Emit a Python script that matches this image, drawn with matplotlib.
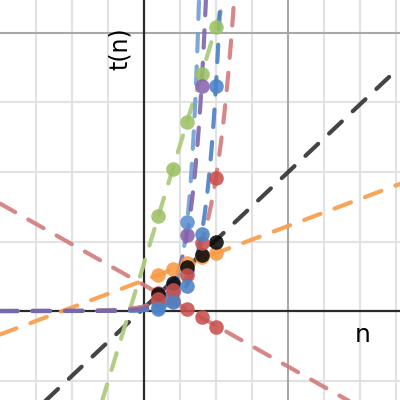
import numpy as np
import matplotlib
matplotlib.use("Agg")
import matplotlib.pyplot as plt

# ---- data ----
n_vals = [2, 4, 6, 8, 10]

black_pts = [1.24, 2.04, 3.17, 4.03, 4.94]
orange_pts = [2.57, 3.04, 3.45, 3.91, 4.19]
red_dec_pts = [1.30, 0.70, 0.12, -0.43, -1.13]
green_pts = [6.83, 10.22, 13.60, 17.05, 20.43]
red_exp_pts = [0.88, 1.49, 2.57, 4.89, 9.59]
blue_pts = [0.17, 0.65, 1.80, 5.54, 16.2]
purple_pts = [0.65, 1.80, 5.47, 16.2]
purple_n = [2, 4, 6, 8]
lblue_pts = [0.31, 1.40, 6.42]
lblue_n = [2, 4, 6]

# trend-line coefficients (linear: slope, intercept; exponential: a, b)
black_lin = (0.488, 0.22)
orange_lin = (0.195, 2.21)
red_dec_lin = (-0.293, 1.87)
green_lin = (1.70, 3.43)
red_exp = (0.332, 1.40)
blue_exp = (0.0759, 1.71)
purple_exp = (0.222, 1.71)
lblue_exp = (0.0667, 2.14)

x_grid = [-15, -10, -5, 5, 10, 15, 25, 30, 35]
x_major = [20]
y_grid = [-5, 5, 10, 15]
y_major = [20]

XMIN, XMAX = -20, 35.56
YMIN, YMAX = -6.4, 22.37

fig = plt.figure(figsize=(4, 4), dpi=100)
ax = fig.add_axes([0, 0, 1, 1])
ax.set_xlim(XMIN, XMAX)
ax.set_ylim(YMIN, YMAX)
for s in ax.spines.values():
    s.set_visible(False)
ax.set_xticks([])
ax.set_yticks([])

for gx in x_grid:
    ax.axvline(gx, color="#e2e2e2", lw=1.5, zorder=0)
for gy in y_grid:
    ax.axhline(gy, color="#e2e2e2", lw=1.5, zorder=0)
for gx in x_major:
    ax.axvline(gx, color="#a8a8a8", lw=1.5, zorder=0)
for gy in y_major:
    ax.axhline(gy, color="#a8a8a8", lw=1.5, zorder=0)
ax.axvline(0, color="#2a2a2a", lw=1.6, zorder=1)
ax.axhline(0, color="#2a2a2a", lw=1.6, zorder=1)

xs = np.linspace(XMIN, XMAX, 2000)
dash = dict(lw=3.0, dashes=(4.2, 3.6), dash_capstyle="round", zorder=2)

def lin(c):
    return c[0] * xs + c[1]

def expo(c):
    y = c[0] * c[1] ** xs
    m = y < 40
    return xs[m], y[m]

ax.plot(xs, lin(red_dec_lin), color="#d27b7b", alpha=0.9, **dash)
ax.plot(xs, lin(orange_lin), color="#f7a050", alpha=0.95, **dash)
ax.plot(xs, lin(black_lin), color="#3a3a3a", alpha=0.95, **dash)
ax.plot(xs, lin(green_lin), color="#aecb80", alpha=0.95, **dash)
ax.plot(*expo(red_exp), color="#d27b7b", alpha=0.9, **dash)
ax.plot(*expo(lblue_exp), color="#6f9fd6", alpha=0.9, **dash)
ax.plot(*expo(blue_exp), color="#4a80c4", alpha=0.9, **dash)
ax.plot(*expo(purple_exp), color="#7c66aa", alpha=0.9, **dash)

pt = dict(marker="o", ms=10.5, lw=0, mew=0, zorder=4, alpha=0.88)
ax.plot(n_vals, green_pts, color="#9cc265", **pt)
ax.plot(purple_n, purple_pts, color="#8a64b0", **pt)
ax.plot(lblue_n, lblue_pts, color="#5a8fd0", **pt)
ax.plot(n_vals, orange_pts, color="#f89a45", **pt)
ax.plot(n_vals, red_dec_pts, color="#c9504d", **pt)
ax.plot(n_vals, black_pts, color="#0a0a0a", **pt)
ax.plot(n_vals, red_exp_pts, color="#c9504d", **pt)
ax.plot(n_vals, blue_pts, color="#4a84c8", **pt)

ax.text(-3.3, 18.9, "t(n)", rotation=90, ha="center", va="center",
        fontsize=17, color="black", family="DejaVu Sans")
ax.text(30.4, -1.75, "n", ha="center", va="center",
        fontsize=18, color="black", family="DejaVu Sans")

fig.savefig("out.png", dpi=100)
